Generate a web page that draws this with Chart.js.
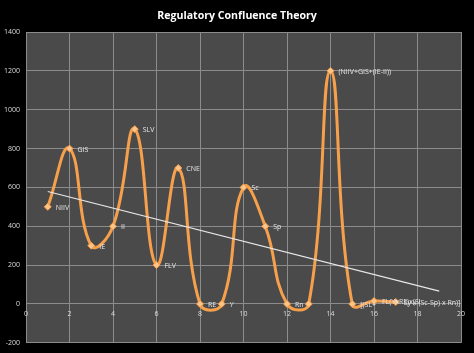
<!DOCTYPE html>
<html><head><meta charset="utf-8">
<script src="https://cdn.jsdelivr.net/npm/chart.js@4.4.0/dist/chart.umd.min.js"></script>
<style>html,body{margin:0;padding:0;background:#000;}#wrap{width:474px;height:353px;}</style>
</head><body><div id="wrap"><canvas id="c"></canvas></div>
<script>
const xValues = [1,2,3,4,5,6,7,8,9,10,11,12,13,14,15,16,17];
const yValues = [500,800,300,400,900,200,700,0,0,600,400,0,0,1200,0,15,10];
const pointLabels = ["NIIV","GIS","IE","II","SLV","FLV","CNE","RE","Y","Sc","Sp","Rn","","(NIIV+GIS+(IE-II))","[(SL+","FL(YxRE)x(Sl","Sy x (Sc-Sp) x Rn)]"];
const trendX = [1,19];
const trendY = [579,66];
const yTicks = [-200,0,200,400,600,800,1000,1200,1400];
const xTicks = [0,2,4,6,8,10,12,14,16,18,20];

const labelPlugin = {
  id:'pl',
  afterDatasetsDraw(chart){
    const ctx = chart.ctx;
    const meta = chart.getDatasetMeta(0);
    ctx.save();
    ctx.font = '7px "Open Sans", sans-serif';
    ctx.fillStyle = '#e6e6e6';
    ctx.textBaseline = 'middle';
    ctx.textAlign = 'left';
    meta.data.forEach((pt,i)=>{
      if(pointLabels[i]) ctx.fillText(pointLabels[i], pt.x+8, pt.y+1);
    });
    ctx.restore();
  }
};
const bgPlugin = {
  id:'bg',
  beforeDraw(chart){
    const {ctx, chartArea:a} = chart;
    ctx.save();
    ctx.fillStyle = '#000';
    ctx.fillRect(0,0,chart.width,chart.height);
    ctx.fillStyle = '#4a4a4a';
    ctx.fillRect(a.left,a.top,a.right-a.left,a.bottom-a.top);
    ctx.restore();
  }
};

new Chart(document.getElementById('c'), {
  type:'scatter',
  data:{
    datasets:[
      {
        data: xValues.map((x,i)=>({x:x,y:yValues[i]})),
        showLine:true,
        borderColor:'#F7A04C',
        borderWidth:3,
        tension:0.45,
        pointStyle:'rectRot',
        pointRadius:3.5,
        pointBackgroundColor:'#FBC48A',
        pointBorderColor:'#F59A42',
        pointBorderWidth:1,
        order:1
      },
      {
        data: trendX.map((x,i)=>({x:x,y:trendY[i]})),
        showLine:true,
        borderColor:'#e8e8e8',
        borderWidth:1.2,
        pointRadius:0,
        tension:0,
        order:0
      }
    ]
  },
  options:{
    responsive:true,
    maintainAspectRatio:false,
    animation:false,
    layout:{padding:{left:0,right:0,top:0,bottom:10}},
    plugins:{
      legend:{display:false},
      tooltip:{enabled:false},
      title:{display:true,text:'Regulatory Confluence Theory',color:'#ffffff',
        font:{family:'"Open Sans", sans-serif',size:10.6,weight:'bold'},
        padding:{top:10,bottom:9.3}}
    },
    scales:{
      x:{
        type:'linear', min:0, max:20,
        position:{y:0},
        afterBuildTicks(s){ s.ticks = xTicks.map(v=>({value:v})); },
        grid:{color:'#8c8c8c',lineWidth:1,drawTicks:false},
        border:{display:false},
        ticks:{color:'#dcdcdc',font:{family:'"Open Sans", sans-serif',size:7},padding:6,maxRotation:0,
          callback:v=>String(v)}
      },
      y:{
        min:-200, max:1400,
        afterBuildTicks(s){ s.ticks = yTicks.map(v=>({value:v})); },
        afterFit(s){ s.width = 26; },
        grid:{color:'#8c8c8c',lineWidth:1,drawTicks:false},
        border:{display:false},
        ticks:{color:'#dcdcdc',font:{family:'"Open Sans", sans-serif',size:7},padding:6,
          callback:v=>String(v)}
      },
      yRight:{
        position:'right',
        min:-200, max:1400,
        afterFit(s){ s.width = 13; },
        grid:{display:false},
        border:{display:false},
        ticks:{display:false}
      }
    }
  },
  plugins:[bgPlugin,labelPlugin]
});
</script></body></html>
